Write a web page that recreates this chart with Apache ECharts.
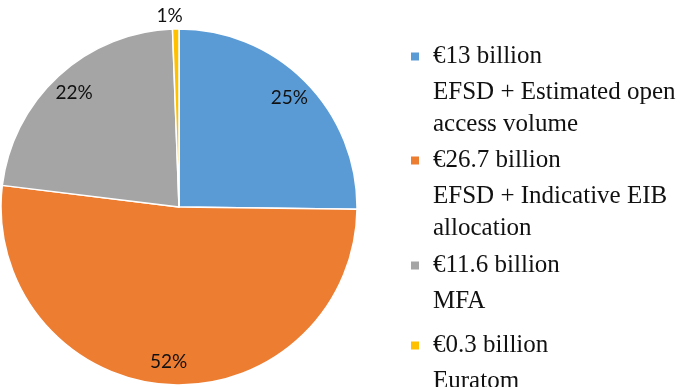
<!DOCTYPE html>
<html>
<head>
<meta charset="utf-8">
<script src="https://cdn.jsdelivr.net/npm/echarts@6/dist/echarts.min.js"></script>
<style>
  html, body { margin: 0; padding: 0; background: #fff; }
  #chart { width: 685px; height: 387px; }
</style>
</head>
<body>
<div id="chart"></div>
<script>
// data
var names = ["EFSD + Estimated open access volume", "EFSD + Indicative EIB allocation", "MFA", "Euratom"];
var values = [13, 26.7, 11.6, 0.3];
var amounts = ["€13 billion", "€26.7 billion", "€11.6 billion", "€0.3 billion"];
var legendLines = [
  ["EFSD + Estimated open", "access volume"],
  ["EFSD + Indicative EIB", "allocation"],
  ["MFA"],
  ["Euratom"]
];
var colors = ["#5b9bd5", "#ed7d31", "#a5a5a5", "#ffc000"];
// legend entries are spread out like in the original, one legend each
var legendTops = [44, 148, 253, 333];

var chart = echarts.init(document.getElementById("chart"));

var total = values.reduce(function (a, b) { return a + b; }, 0);

// rich styles for legend: marker square sits next to the amount line
var rich = {
  t: { fontFamily: "serif", fontSize: 25, color: "#111", lineHeight: 32, padding: [0, 0, 0, 14] }
};
colors.forEach(function (c, i) {
  rich["m" + i] = { width: 8, height: 8, backgroundColor: c };
});

var legends = names.map(function (n, i) {
  return {
    orient: "vertical",
    left: 405,
    top: legendTops[i],
    padding: 0,
    icon: "rect",
    itemWidth: 0,
    itemHeight: 0,
    selectedMode: false,
    data: [n],
    formatter: function (name) {
      var k = names.indexOf(name);
      return "{m" + k + "|}{t|" + amounts[k] + "}";
    },
    textStyle: { fontSize: 25, color: "#111", rich: rich }
  };
});

// description lines under each amount, as plain text
var subTexts = legendLines.map(function (lines, i) {
  return {
    type: "text",
    left: 433,
    top: legendTops[i] + 32,
    silent: true,
    style: {
      text: lines.join("\n"),
      fontFamily: "serif",
      fontSize: 25,
      lineHeight: 32,
      fill: "#111"
    }
  };
});

chart.setOption({
  color: colors,
  animation: false,
  legend: legends,
  graphic: subTexts,
  series: [
    {
      // the pie itself
      type: "pie",
      center: [179, 207],
      radius: [0, 178],
      silent: true,
      label: { show: false },
      labelLine: { show: false },
      itemStyle: { borderColor: "#fff", borderWidth: 1.5 },
      data: names.map(function (n, i) { return { name: n, value: values[i] }; })
    },
    {
      // label-only ring so the percentages sit near the rim
      type: "pie",
      center: [179, 207],
      radius: [126, 178],
      silent: true,
      legendHoverLink: false,
      itemStyle: { color: "rgba(0,0,0,0)" },
      label: {
        show: true,
        position: "inside",
        fontFamily: "Lato",
        fontSize: 19,
        color: "#111",
        formatter: function (p) {
          return Math.round(p.value / total * 100) + "%";
        }
      },
      labelLine: { show: false },
      labelLayout: function (p) {
        if (p.dataIndex == 3) return { dx: 12, dy: -8 };
      },
      data: names.map(function (n, i) {
        var d = { name: n, value: values[i] };
        if (i == 3) {
          d.label = { position: "outside" };
          d.labelLine = { show: false, length: 5, length2: 0 };
        }
        return d;
      })
    }
  ]
});
</script>
</body>
</html>
